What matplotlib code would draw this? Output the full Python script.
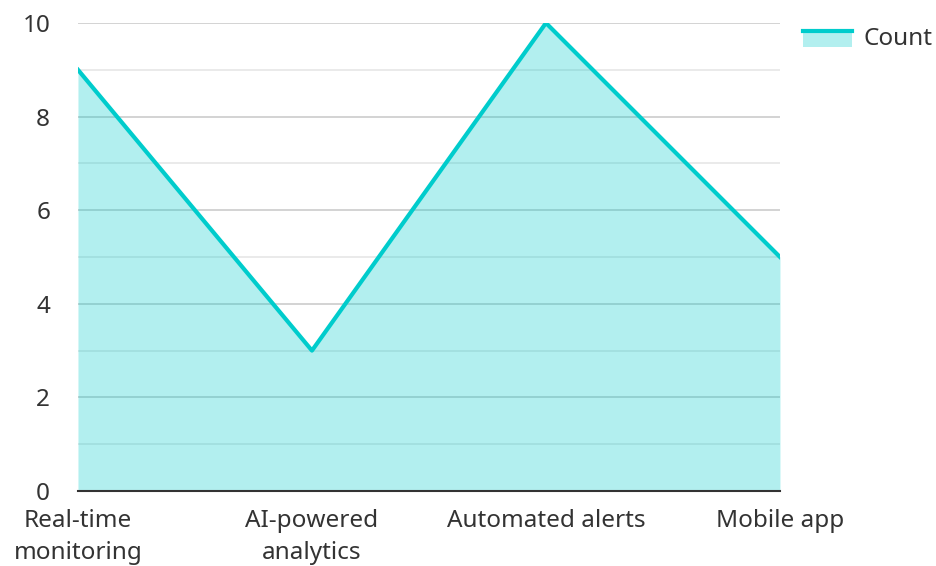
import matplotlib.pyplot as plt
from matplotlib.lines import Line2D
from matplotlib.patches import Rectangle

categories = ["Real-time\nmonitoring", "AI-powered\nanalytics", "Automated alerts", "Mobile app"]
counts = [9, 3, 10, 5]

plt.rcParams['font.family'] = ['Noto Sans', 'DejaVu Sans']
line_color = "#00cccc"
text_color = "#333333"


class AreaHandler:
    # filled box with the line along its top edge
    def legend_artist(self, legend, orig_handle, fontsize, handlebox):
        x0, y0 = handlebox.xdescent, handlebox.ydescent
        w, h = handlebox.width, handlebox.height
        rect = Rectangle((x0, y0 - h * 0.15), w, h * 0.95, facecolor=line_color,
                         alpha=0.3, edgecolor="none", transform=handlebox.get_transform())
        ln = Line2D([x0, x0 + w], [y0 + h * 0.8, y0 + h * 0.8], color=line_color,
                    linewidth=3, transform=handlebox.get_transform())
        handlebox.add_artist(rect)
        handlebox.add_artist(ln)
        return rect


fig = plt.figure(figsize=(9.37, 5.66), dpi=100)
ax = fig.add_axes([0.0832, 0.1325, 0.7492, 0.8269])

x = list(range(len(categories)))
ax.fill_between(x, counts, 0, color=line_color, alpha=0.3, linewidth=0, zorder=2)
area_line, = ax.plot(x, counts, color=line_color, linewidth=3, zorder=3)

ax.set_xlim(0, len(categories) - 1)
ax.set_ylim(0, 10)
ax.set_yticks([0, 2, 4, 6, 8, 10])
ax.set_yticks([1, 3, 5, 7, 9], minor=True)
ax.grid(True, which="major", axis="y", color="#cccccc", linewidth=1.2, zorder=1)
ax.grid(True, which="minor", axis="y", color="#e6e6e6", linewidth=1.2, zorder=1)
ax.set_axisbelow(True)

ax.set_xticks(x)
ax.set_xticklabels(categories, linespacing=1.45)
ax.tick_params(axis="both", which="both", length=0, labelsize=17.5, labelcolor=text_color)
ax.tick_params(axis="x", pad=13)
ax.tick_params(axis="y", pad=20)

for side in ["top", "right", "left"]:
    ax.spines[side].set_visible(False)
ax.spines["bottom"].set_color("#333333")
ax.spines["bottom"].set_linewidth(1.5)
ax.spines["bottom"].set_zorder(4)

fig.legend([area_line], ["Count"], loc="upper right", bbox_to_anchor=(0.995, 0.953),
           handler_map={Line2D: AreaHandler()}, frameon=False, borderpad=0,
           borderaxespad=0, fontsize=17.5, labelcolor=text_color,
           handlelength=2.0, handletextpad=0.47)

fig.savefig("out.png", dpi=100)
